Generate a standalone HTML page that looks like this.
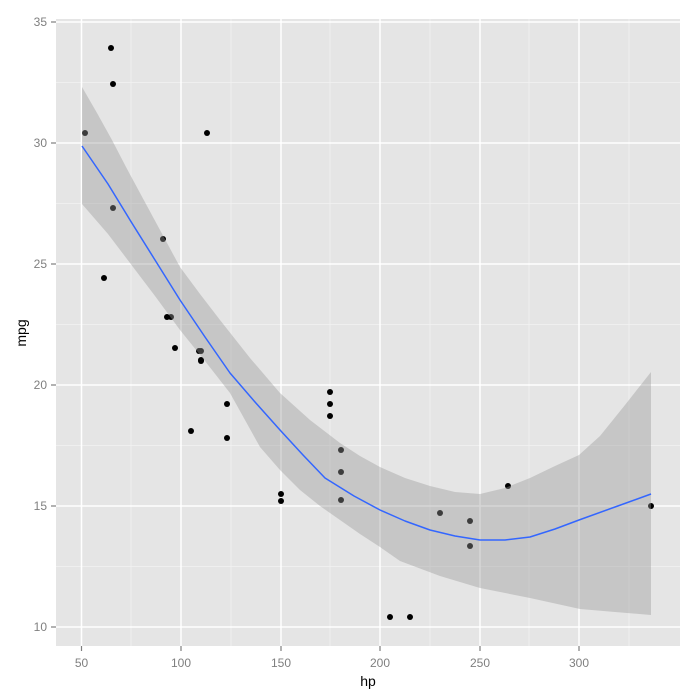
<!DOCTYPE html>
<html><head><style>body{margin:0;background:#fff}svg{display:block}</style></head><body>
<svg width="700" height="700" xmlns="http://www.w3.org/2000/svg" font-family="Liberation Sans, sans-serif">
<rect x="56" y="19" width="624" height="627" fill="#E5E5E5"/>
<g stroke="#F2F2F2" stroke-width="0.8">
<line x1="56" x2="680" y1="566.5" y2="566.5"/><line x1="56" x2="680" y1="445.5" y2="445.5"/><line x1="56" x2="680" y1="324.5" y2="324.5"/><line x1="56" x2="680" y1="203.5" y2="203.5"/><line x1="56" x2="680" y1="82.5" y2="82.5"/>
<line y1="19" y2="646" x1="131" x2="131"/><line y1="19" y2="646" x1="231" x2="231"/><line y1="19" y2="646" x1="330" x2="330"/><line y1="19" y2="646" x1="430" x2="430"/><line y1="19" y2="646" x1="529" x2="529"/><line y1="19" y2="646" x1="629" x2="629"/>
</g>
<g stroke="#fff" stroke-width="1.5">
<line x1="56" x2="680" y1="627" y2="627"/><line x1="56" x2="680" y1="506" y2="506"/><line x1="56" x2="680" y1="385" y2="385"/><line x1="56" x2="680" y1="264" y2="264"/><line x1="56" x2="680" y1="143" y2="143"/><line x1="56" x2="680" y1="22" y2="22"/>
<line y1="19" y2="646" x1="81.5" x2="81.5"/><line y1="19" y2="646" x1="181" x2="181"/><line y1="19" y2="646" x1="281" x2="281"/><line y1="19" y2="646" x1="380" x2="380"/><line y1="19" y2="646" x1="480" x2="480"/><line y1="19" y2="646" x1="579" x2="579"/>
</g>
<g fill="#000">
<circle cx="201" cy="360" r="3"/><circle cx="201" cy="361" r="3"/><circle cx="167" cy="317" r="3"/><circle cx="201" cy="351" r="3"/><circle cx="330" cy="416" r="3"/><circle cx="191" cy="431" r="3"/><circle cx="470" cy="521" r="3"/><circle cx="104" cy="278" r="3"/><circle cx="171" cy="317" r="3"/><circle cx="227" cy="404" r="3"/><circle cx="227" cy="438" r="3"/><circle cx="341" cy="472" r="3"/><circle cx="341" cy="450" r="3"/><circle cx="341" cy="500" r="3"/><circle cx="390" cy="617" r="3"/><circle cx="410" cy="617" r="3"/><circle cx="440" cy="513" r="3"/><circle cx="113" cy="84" r="3"/><circle cx="85" cy="133" r="3"/><circle cx="111" cy="48" r="3"/><circle cx="175" cy="348" r="3"/><circle cx="281" cy="494" r="3"/><circle cx="281" cy="501" r="3"/><circle cx="470" cy="546" r="3"/><circle cx="330" cy="404" r="3"/><circle cx="113" cy="208" r="3"/><circle cx="163" cy="239" r="3"/><circle cx="207" cy="133" r="3"/><circle cx="508" cy="486" r="3"/><circle cx="330" cy="392" r="3"/><circle cx="651" cy="506" r="3"/><circle cx="199" cy="351" r="3"/>
</g>
<path d="M82,87 L97,113 112,140 126,167 140,193 160,230 180,267 200,294 220,320 250,358 280,393 310,420 340,443 360,456 380,467 405,478 430,486 455,492 480,494 505,488 530,478 555,466 579,455 600,436 625,405 651,372 L651,615 615,612 580,609 530,598 480,588 440,576 400,561 380,547 360,534 340,520 320,506 300,490 280,470 260,447 245,420 230,393 205,361 180,330 155,296 130,263 108,234 82,204 Z" fill="#999" fill-opacity="0.4"/>
<path d="M82,146 L108,184 130,220 155,260 180,300 205,337 230,373 255,402 280,430 303,455 325,478 354,496 380,510 405,521 430,530 455,536 480,540 505,540 530,537 555,529 579,520 615,507 651,494" fill="none" stroke="#3366FF" stroke-width="1.5" stroke-linejoin="round"/>
<g stroke="#7f7f7f" stroke-width="1.2">
<line x1="51" x2="56" y1="627" y2="627"/><line x1="51" x2="56" y1="506" y2="506"/><line x1="51" x2="56" y1="385" y2="385"/><line x1="51" x2="56" y1="264" y2="264"/><line x1="51" x2="56" y1="143" y2="143"/><line x1="51" x2="56" y1="22" y2="22"/>
<line y1="646" y2="651" x1="81.5" x2="81.5"/><line y1="646" y2="651" x1="181" x2="181"/><line y1="646" y2="651" x1="281" x2="281"/><line y1="646" y2="651" x1="380" x2="380"/><line y1="646" y2="651" x1="480" x2="480"/><line y1="646" y2="651" x1="579" x2="579"/>
</g>
<g fill="#7f7f7f" font-size="12" text-anchor="end">
<text x="47" y="631">10</text><text x="47" y="510">15</text><text x="47" y="389">20</text><text x="47" y="268">25</text><text x="47" y="147">30</text><text x="47" y="26">35</text>
</g>
<g fill="#7f7f7f" font-size="12" text-anchor="middle">
<text x="81.5" y="667">50</text><text x="181" y="667">100</text><text x="281" y="667">150</text><text x="380" y="667">200</text><text x="480" y="667">250</text><text x="579" y="667">300</text>
</g>
<text x="368" y="686" font-size="14" text-anchor="middle">hp</text>
<text transform="translate(26,333) rotate(-90)" font-size="14" text-anchor="middle">mpg</text>
</svg>
</body></html>
